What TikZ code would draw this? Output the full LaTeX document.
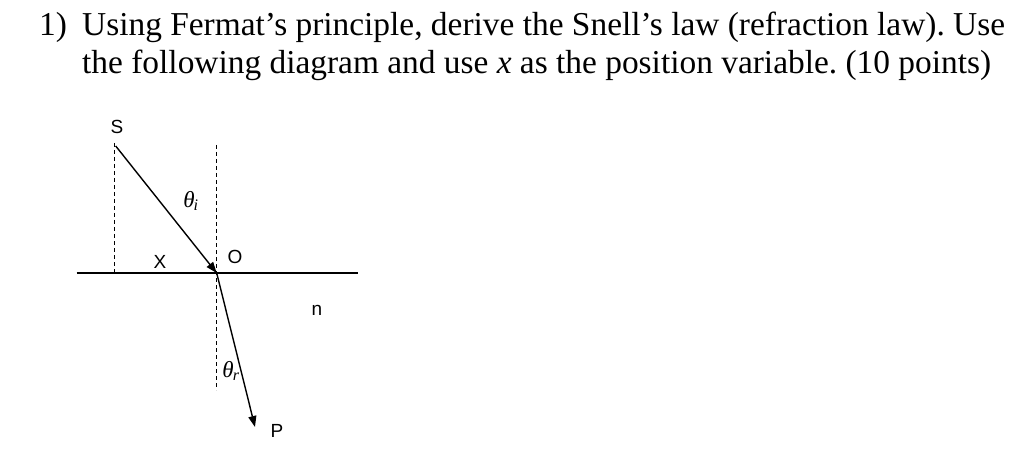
\documentclass[tikz,border=0pt]{standalone}
\usepackage{fontspec}
\setmainfont{Liberation Serif}
\newfontfamily\arial{Liberation Sans}
\usetikzlibrary{arrows.meta}
\frenchspacing
\begin{document}
\begin{tikzpicture}[x=1pt,y=-1pt,
		task/.style={anchor=base west,inner sep=0pt,font=\fontsize{33.4}{37.6}\selectfont},
		lbl/.style={inner sep=0pt,font=\arial\fontsize{19}{19}\selectfont},
		ang/.style={inner sep=0pt,font=\fontsize{23}{23}\selectfont\itshape},
		ray/.style={line width=1.4pt,-{Triangle[length=11pt,width=8pt]}},
		guide/.style={line width=0.8pt,dash pattern=on 4pt off 3pt}]
	\useasboundingbox (0,0) rectangle (1024,454);

			% Условие задачи
			\node[task] (num) at (39,35.7) {1)};
			\node[task] (line1) at (82,35.7) {Using Fermat’s principle, derive the Snell’s law (refraction law). Use};
			\node[task] (line2) at (82,73.3) {the following diagram and use \textit{x} as the position variable. (10 points)};

			% Граница раздела и нормали
			\coordinate (O) at (216.7,273);
			\coordinate (Lft) at (76.7,273);
			\coordinate (Rgt) at (358.3,273);
			\coordinate (S0) at (115.7,146);
			\coordinate (P0) at (255,427);
			\draw[line width=1.4pt] (Lft) -- (Rgt);
			\draw[guide] (114.3,143) coordinate (nS) -- (nS |- O);
			\draw[guide] (216.7,145) coordinate (nO) -- (216.7,390) coordinate (nB);

			% Падающий и преломлённый лучи
			\draw[ray] (S0) -- (O);
			\draw[ray] (O) -- (P0);

			% Подписи
			\node[lbl] (S) at (117,127) {S};
			\node[lbl] (X) at (160,262) {X};
			\node[lbl] (Olab) at (235,257) {O};
			\node[lbl] (n) at (317,310) {n};
			\node[lbl] (P) at (277,431) {P};
			\node[ang] (thi) at (191,201) {θ\textsubscript{\kern-1pt i}};
			\node[ang] (thr) at (231,371) {θ\textsubscript{\kern-1pt r}};

\end{tikzpicture}
\end{document}
